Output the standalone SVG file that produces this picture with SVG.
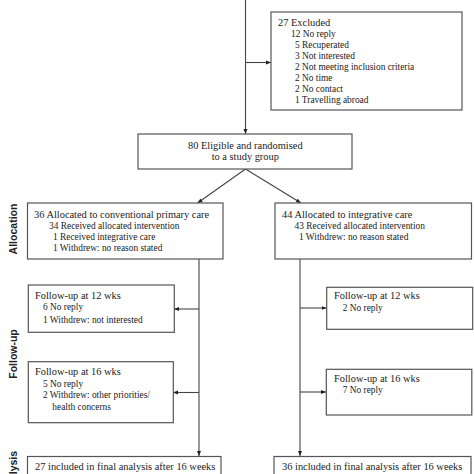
<svg xmlns="http://www.w3.org/2000/svg" width="474" height="474" viewBox="0 0 474 474">
<defs>
<style>
.box{fill:#fff;stroke:#555;stroke-width:1.2}
.ln{fill:none;stroke:#444;stroke-width:1.1}
.t{font-family:"Liberation Serif","Times New Roman",serif;font-size:10.4px;fill:#222}
.s{font-family:"Liberation Serif","Times New Roman",serif;font-size:9.4px;fill:#222}
.side{font-family:"Liberation Sans",Arial,sans-serif;font-size:10.5px;font-weight:bold;fill:#222;text-anchor:middle}
</style>
<marker id="ah" viewBox="0 0 10 10" refX="10" refY="5" markerWidth="5" markerHeight="5" orient="auto" markerUnits="userSpaceOnUse">
<path d="M0,1 L10,5 L0,9 z" fill="#222"/>
</marker>
</defs>
<rect width="474" height="474" fill="#fff"/>

<g id="connectors">
<line class="ln" x1="245.5" y1="0" x2="245.5" y2="134" marker-end="url(#ah)"/>
<line class="ln" x1="245.5" y1="62.5" x2="271" y2="62.5" marker-end="url(#ah)"/>
<line class="ln" x1="245.5" y1="169" x2="197.5" y2="203" marker-end="url(#ah)"/>
<line class="ln" x1="245.5" y1="169" x2="301" y2="203" marker-end="url(#ah)"/>
<line class="ln" x1="199" y1="259" x2="199" y2="456" marker-end="url(#ah)"/>
<line class="ln" x1="199" y1="309" x2="174" y2="309" marker-end="url(#ah)"/>
<line class="ln" x1="199" y1="392.5" x2="173" y2="392.5" marker-end="url(#ah)"/>
<line class="ln" x1="300" y1="259" x2="300" y2="456" marker-end="url(#ah)"/>
<line class="ln" x1="300" y1="308" x2="326.5" y2="308" marker-end="url(#ah)"/>
<line class="ln" x1="300" y1="392" x2="326" y2="392" marker-end="url(#ah)"/>
</g>

<g id="excluded">
<rect class="box" x="271" y="12" width="191" height="98"/>
<text class="t" x="278" y="26">27 Excluded</text>
<text class="s" x="291" y="36.7">12 No reply</text>
<text class="s" x="295" y="47.7">5 Recuperated</text>
<text class="s" x="295" y="58.7">3 Not interested</text>
<text class="s" x="295" y="69.7">2 Not meeting inclusion criteria</text>
<text class="s" x="295" y="80.7">2 No time</text>
<text class="s" x="295" y="91.7">2 No contact</text>
<text class="s" x="295" y="102.7">1 Travelling abroad</text>
</g>

<g id="randomised">
<rect class="box" x="138" y="134" width="214" height="35"/>
<text class="t" x="245.3" y="148.5" text-anchor="middle">80 Eligible and randomised</text>
<text class="t" x="245.3" y="160" text-anchor="middle">to a study group</text>
</g>

<g id="alloc-conv">
<rect class="box" x="27.5" y="203" width="195.5" height="56"/>
<text class="t" x="34" y="217.5">36 Allocated to conventional primary care</text>
<text class="s" x="49" y="228.5">34 Received allocated intervention</text>
<text class="s" x="53" y="239.5">1 Received integrative care</text>
<text class="s" x="53" y="250.5">1 Withdrew: no reason stated</text>
</g>

<g id="alloc-integ">
<rect class="box" x="275" y="203" width="196.5" height="56"/>
<text class="t" x="282" y="217.5">44 Allocated to integrative care</text>
<text class="s" x="294.5" y="228.5">43 Received allocated intervention</text>
<text class="s" x="299" y="239.5">1 Withdrew: no reason stated</text>
</g>

<g id="fu12-conv">
<rect class="box" x="28.3" y="285" width="146" height="47.3"/>
<text class="t" x="35" y="298.5">Follow-up at 12 wks</text>
<text class="s" x="43" y="310.3">6 No reply</text>
<text class="s" x="43" y="322.5">1 Withdrew: not interested</text>
</g>

<g id="fu16-conv">
<rect class="box" x="28.3" y="361.7" width="145" height="61"/>
<text class="t" x="35" y="375">Follow-up at 16 wks</text>
<text class="s" x="43" y="386.7">5 No reply</text>
<text class="s" x="43" y="398.2">2 Withdrew: other priorities/</text>
<text class="s" x="52.3" y="409.5">health concerns</text>
</g>

<g id="fu12-integ">
<rect class="box" x="326.7" y="287.3" width="146" height="42"/>
<text class="t" x="334" y="299.3">Follow-up at 12 wks</text>
<text class="s" x="342.7" y="310.7">2 No reply</text>
</g>

<g id="fu16-integ">
<rect class="box" x="326.3" y="369.3" width="145.5" height="45.7"/>
<text class="t" x="334" y="381.7">Follow-up at 16 wks</text>
<text class="s" x="342.7" y="392.7">7 No reply</text>
</g>

<g id="final-conv">
<rect class="box" x="27.5" y="456.5" width="193.5" height="30"/>
<text class="t" x="35" y="470">27 included in final analysis after 16 weeks</text>
</g>

<g id="final-integ">
<rect class="box" x="274" y="456.5" width="197" height="30"/>
<text class="t" x="282" y="470">36 included in final analysis after 16 weeks</text>
</g>

<g id="side-labels">
<text class="side" transform="translate(17.3,229) rotate(-90)">Allocation</text>
<text class="side" transform="translate(17.3,354) rotate(-90)">Follow-up</text>
<text class="side" transform="translate(17.3,472.5) rotate(-90)">Analysis</text>
</g>
</svg>
